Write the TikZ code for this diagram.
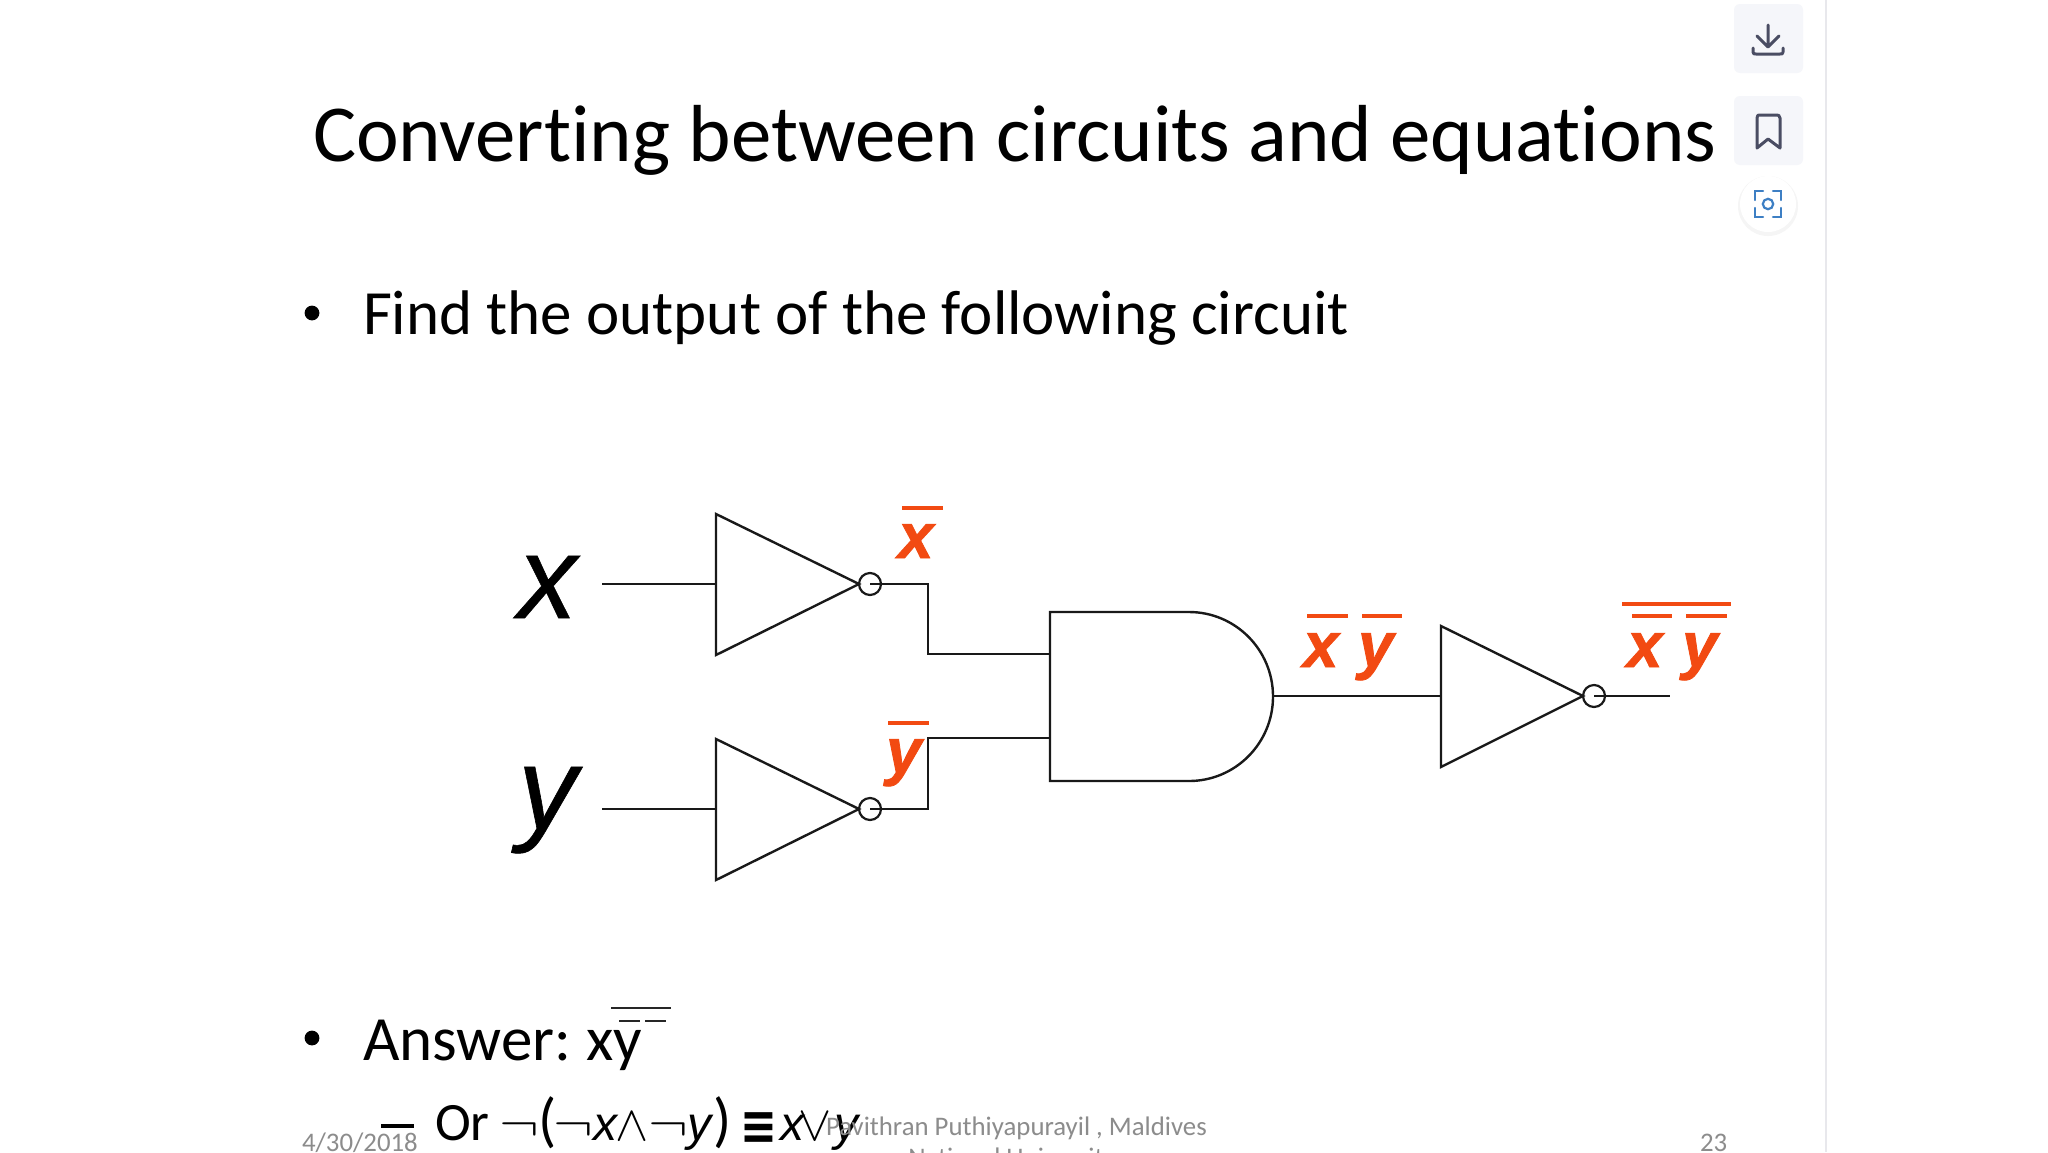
\documentclass[tikz,border=0pt]{standalone}
\usepackage{fontspec}
\setmainfont[Ligatures=NoCommon]{Carlito}
\newfontfamily\lblfont[BoldItalicFeatures={FakeBold=1.2}]{Liberation Sans}
\newfontfamily\varfont[ItalicFeatures={FakeBold=0.5}]{Liberation Sans}
\newfontfamily\subfont{Liberation Sans}
\definecolor{lbl}{HTML}{F24A12}
\definecolor{foot}{HTML}{8C8C8C}
\definecolor{btn}{HTML}{F5F6FA}
\definecolor{icon}{HTML}{4A4D63}
\definecolor{cam}{HTML}{3D7FC4}
\definecolor{rule}{HTML}{E8E8EC}
\tikzset{
  wire/.style={draw=black!90,line width=1.2pt},
  gate/.style={draw=black!90,line width=1.2pt,line join=miter},
  bubble/.style={circle,draw=black!90,line width=1.1pt,minimum size=11pt,inner sep=0pt},
  txt/.style={anchor=base west,inner sep=0pt,outer sep=0pt},
  title/.style={txt,font=\fontsize{40.45}{44}\selectfont},
  body/.style={txt,font=\fontsize{31.5}{36}\selectfont},
  sub/.style={txt,font=\fontsize{27}{32}\selectfont},
  paren/.style={txt,font=\fontsize{30}{34}\selectfont},
  subvar/.style={txt,font=\fontsize{24}{28}\subfont\itshape},
  footer/.style={txt,text=foot,font=\fontsize{13.4}{16}\selectfont},
  bigvar/.style={txt,font=\fontsize{58.8}{70}\varfont\itshape},
  orange/.style={txt,text=lbl,font=\fontsize{32}{34}\lblfont\bfseries\itshape},
  bar/.style={draw=lbl,line width=1.7pt},
  tinybar/.style={draw=black!85,line width=1.1pt},
  iconline/.style={draw=icon,line width=1.5pt,line cap=round,line join=round},
  btnbox/.style={fill=btn,rounded corners=3pt},
}
\begin{document}
\begin{tikzpicture}[x=0.5pt,y=-0.5pt]
\useasboundingbox (0,0) rectangle (2048,1152);
\fill[white] (0,0) rectangle (2048,1152);
\draw[rule,line width=1pt] (1826,0) -- (1826,1152);
% toolbar
\fill[btnbox] (1734,4) rectangle (1803,73);
\fill[btnbox] (1734,96) rectangle (1803,165);
\fill[black!4] (1768,206) circle (15pt);
\fill[white] (1768,204) circle (14pt);
\draw[iconline] (1768,25) -- (1768,46) (1757,36) -- (1768,47) -- (1779,36);
\draw[iconline] (1753,48) -- (1753,52) .. controls (1753,54) and (1754,54) .. (1756,54) -- (1780,54) .. controls (1782,54) and (1783,54) .. (1783,52) -- (1783,48);
\draw[iconline] (1757,148) -- (1757,118) .. controls (1757,115) and (1758,115) .. (1760,115) -- (1776,115) .. controls (1778,115) and (1780,115) .. (1780,118) -- (1780,148) -- (1768,139) -- cycle;
\draw[draw=cam,line width=1.1pt,line cap=round] (1755,200) -- (1755,191) -- (1763,191) (1773,191) -- (1781,191) -- (1781,200) (1755,208) -- (1755,217) -- (1763,217) (1773,217) -- (1781,217) -- (1781,208);
\draw[draw=cam,line width=1.1pt] (1768,204) circle (2.6pt);
% texts
\node[title] (ttl) at (313,161) {Converting between circuits and equations};
\node[body] (b1) at (363,334) {Find the output of the following circuit};
\fill (312,313) circle (3.7pt);
\fill (312,1038) circle (3.7pt);
\node[body] (b2) at (363,1060) {Answer:};
\node[body] (b2v) at (586,1060) {xy};
\draw[tinybar] (611,1008) -- (671,1008) (619,1021) -- (640,1021) (645,1021) -- (666,1021);
\draw[line width=1.6pt] (381,1126) -- (414,1126);
\node[sub] (or) at (435,1140) {Or};
\node[body] (n1) at (499,1140) {\scalebox{1.2}[1]{$\neg$}};
\node[paren] (lp) at (538,1140) {(};
\node[body] (n2) at (553,1140) {\scalebox{1.2}[1]{$\neg$}};
\node[subvar] (ex) at (593,1140) {x};
\node[body] (wd) at (615,1140) {$\wedge$};
\node[body] (n3) at (648,1140) {\scalebox{1.2}[1]{$\neg$}};
\node[subvar] (ey) at (687,1140) {y};
\node[paren] (rp) at (713,1140) {)};
\node[body] (eq) at (742,1149) {\scalebox{1.05}[1.1]{\textbf{≡}}};
\node[subvar] (fx) at (780,1140) {x};
\node[body] (vv) at (798,1140) {$\vee$};
\node[subvar] (fy) at (834,1140) {y};
\node[footer] (fd) at (302,1151) {4/30/2018};
\node[footer] (fa) at (826,1135) {Pavithran Puthiyapurayil , Maldives};
\node[footer,anchor=base] (fb) at (1012,1166) {National University};
\node[footer] (fn) at (1700,1151) {23};
% inputs
\node[bigvar] (vx) at (518,618) {x};
\node[bigvar] (vy) at (518,829) {y};
\coordinate (xin) at (602,584);
\coordinate (yin) at (602,809);
% gates
\coordinate (i1a) at (716,514); \coordinate (i1b) at (716,655); \coordinate (i1t) at (859,584); \coordinate (i1m) at (716,584);
\coordinate (i2a) at (716,739); \coordinate (i2b) at (716,880); \coordinate (i2t) at (859,809); \coordinate (i2m) at (716,809);
\coordinate (i3a) at (1441,626); \coordinate (i3b) at (1441,767); \coordinate (i3t) at (1583,696); \coordinate (i3m) at (1441,696);
\coordinate (ng1) at (1050,654); \coordinate (ng2) at (1050,738); \coordinate (ngo) at (1273,696);
\coordinate (endw) at (1670,696);
\draw[gate] (i1a) -- (i1t) -- (i1b) -- cycle;
\draw[gate] (i2a) -- (i2t) -- (i2b) -- cycle;
\draw[gate] (i3a) -- (i3t) -- (i3b) -- cycle;
\draw[gate] (1050,612) -- (1189,612) arc[start angle=90,end angle=-90,x radius=84,y radius=-84.5] -- (1050,781) -- cycle;
\node[bubble] (c1) at (870,584) {};
\node[bubble] (c2) at (870,809) {};
\node[bubble] (c3) at (1594,696) {};
% wires
\draw[wire] (xin) -- (i1m);
\draw[wire] (yin) -- (i2m);
\draw[wire] (c1.center) -- (928,584) -- (928,654) -- (ng1);
\draw[wire] (c2.center) -- (928,809) -- (928,738) -- (ng2);
\draw[wire] (ngo) -- (i3m);
\draw[wire] (c3.center) -- (endw);
% orange labels
\draw[bar] (902,508) -- (943,508);
\node[orange] (lx1) at (898,558) {x};
\draw[bar] (888,723) -- (929,723);
\node[orange] (ly1) at (886,773) {y};
\draw[bar] (1307,616) -- (1348,616) (1362,616) -- (1402,616);
\node[orange] (lx2) at (1303,667) {x};
\node[orange] (ly2) at (1358,667) {y};
\draw[bar] (1622,604) -- (1731,604) (1632,616) -- (1672,616) (1686,616) -- (1727,616);
\node[orange] (lx3) at (1627,667) {x};
\node[orange] (ly3) at (1682,667) {y};
\end{tikzpicture}
\end{document}
